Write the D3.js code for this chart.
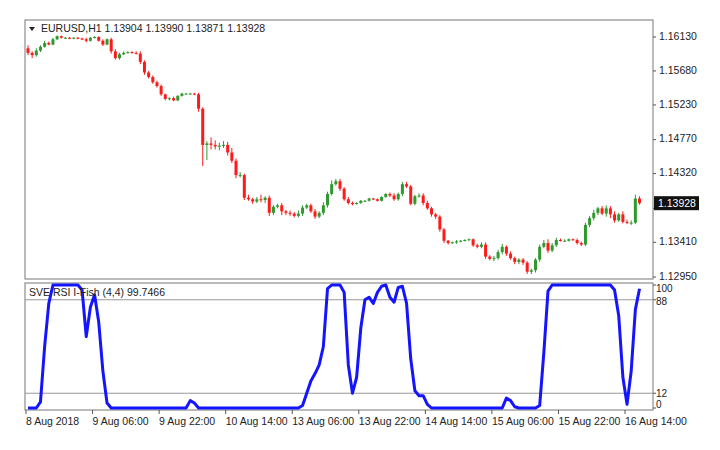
<!DOCTYPE html>
<html><head><meta charset="utf-8">
<script src="https://cdn.jsdelivr.net/npm/d3@7"></script>
<style>body{margin:0;background:#fff}text{font-family:Tahoma,"Liberation Sans",sans-serif;font-size:10.5px;fill:#222}</style>
</head><body><svg id="c" width="720" height="450"></svg>
<script>
// closes, one per H1 bar
const closes = [1.1592,1.1589,1.1595,1.1600,1.1605,1.1603,1.1610,1.1614,1.1612,1.1612,
1.1611,1.1612,1.1611,1.1610,1.1608,1.1612,1.1613,1.1608,1.1603,1.1610,
1.1594,1.1585,1.1590,1.1592,1.1593,1.1592,1.1591,1.1580,1.1566,1.1560,
1.1553,1.1548,1.1537,1.1531,1.1532,1.1529,1.1535,1.1538,1.1538,1.1538,
1.1537,1.1518,1.1470,1.1472,1.1470,1.1468,1.1469,1.1470,1.1460,1.1449,
1.1430,1.1430,1.1400,1.1398,1.1395,1.1398,1.1397,1.1400,1.1380,1.1388,
1.1390,1.1382,1.1380,1.1379,1.1376,1.1379,1.1387,1.1390,1.1382,1.1375,
1.1380,1.1390,1.1405,1.1418,1.1422,1.1412,1.1398,1.1393,1.1392,1.1393,
1.1396,1.1396,1.1399,1.1398,1.1396,1.1401,1.1405,1.1403,1.1398,1.1405,
1.1418,1.1415,1.1392,1.1402,1.1403,1.1393,1.1386,1.1378,1.1375,1.1358,
1.1343,1.1340,1.1341,1.1342,1.1343,1.1344,1.1345,1.1337,1.1335,1.1338,
1.1322,1.1319,1.1320,1.1328,1.1335,1.1326,1.1320,1.1315,1.1318,1.1314,
1.1302,1.1304,1.1318,1.1335,1.1340,1.1330,1.1337,1.1344,1.1343,1.1343,
1.1345,1.1344,1.1340,1.1338,1.1364,1.1373,1.1380,1.1386,1.1379,1.1386,
1.1378,1.1370,1.1378,1.1368,1.1367,1.1367,1.1399,1.13928];
const firstOpen = 1.1598;
// wick extents in pips above/below the body
const wickUp = [4,2,3,2,3,2,2,1,1,1,1,1,1,1,2,1,1,1,2,1,2,3,2,2,1,1,2,3,2,2,
2,2,2,1,1,2,1,1,1,1,1,2,2,3,8,6,4,5,4,6,3,4,2,4,2,3,6,2,3,2,
2,3,2,3,2,4,3,2,2,3,2,4,3,5,3,3,2,3,2,1,1,1,1,1,1,1,1,2,3,2,
3,3,2,2,3,3,3,2,2,2,2,1,1,2,1,1,1,1,2,3,3,2,3,3,4,2,3,2,2,2,
2,2,2,3,4,5,3,3,2,2,1,1,2,2,3,3,4,2,3,4,3,4,2,4,3,3,5,3];
const wickDn = [3,4,2,2,1,1,1,1,1,1,1,1,1,1,2,1,1,1,2,1,3,2,2,1,1,1,1,3,3,2,
2,2,2,2,2,1,1,1,1,1,1,4,28,20,6,4,5,3,4,3,4,3,3,2,3,2,3,4,4,3,
2,5,3,3,2,2,3,2,2,3,2,3,3,2,2,3,2,2,2,1,1,1,1,1,1,1,1,2,2,2,
3,2,2,2,2,3,2,3,3,3,3,2,1,2,1,1,1,2,2,2,3,2,3,2,3,3,2,3,3,3,
3,3,3,3,2,3,2,2,1,1,1,1,2,2,2,3,3,3,2,4,5,3,2,2,2,3,2,2];
// SVE RSI I-Fish, one value per bar (10 per row)
const rsi = [0,0,0,5,50,85,100,100,100,100,
100,100,100,96,58,82,92,70,30,4,
0,0,0,0,0,0,0,0,0,0,
0,0,0,0,0,0,0,0,0,6,
4,0,0,0,0,0,0,0,0,0,
0,0,0,0,0,0,0,0,0,0,
0,0,0,0,0,0,2,12,22,28,
35,50,97,100,100,100,94,35,12,25,
65,88,90,85,94,99,100,90,86,98,
99,85,40,14,10,10,3,0,0,0,
0,0,0,0,0,0,0,0,0,0,
0,0,0,0,0,8,6,1,0,0,
0,0,0,2,45,95,100,100,100,100,
100,100,100,100,100,100,100,100,100,100,
100,96,75,25,3,30,80,97];
const priceTicks = [1.16130,1.15680,1.15230,1.14770,1.14320,1.13860,1.13410,1.12950];
const rsiLevels = [100,88,12,0];
const timeLabels = ["8 Aug 2018","9 Aug 06:00","9 Aug 22:00","10 Aug 14:00","13 Aug 06:00",
  "13 Aug 22:00","14 Aug 14:00","15 Aug 06:00","15 Aug 22:00","16 Aug 14:00"];
const labelStep = 16;

const svg = d3.select('#c');
const L = 25, R = 653, T1 = 20, B1 = 279, T2 = 283, B2 = 410;
const x = d3.scaleLinear().domain([0, closes.length]).range([L + 1, L + 1 + 4.16 * closes.length]);
const y = d3.scaleLinear().domain([1.12950, 1.16130]).range([277, 37]);
const yr = d3.scaleLinear().domain([0, 100]).range([B2 - 2, T2 + 2]);

// panel frames
svg.append('rect').attr('x', L).attr('y', T1).attr('width', R - L).attr('height', B1 - T1)
  .attr('fill', 'none').attr('stroke', '#777');
svg.append('rect').attr('x', L).attr('y', T2).attr('width', R - L).attr('height', B2 - T2)
  .attr('fill', 'none').attr('stroke', '#777');

// candles
const bars = closes.map((c, i) => {
  const o = i === 0 ? firstOpen : closes[i - 1];
  return { i, o, c, h: Math.max(o, c) + wickUp[i] / 10000, l: Math.min(o, c) - wickDn[i] / 10000 };
});
const g = svg.append('g');
bars.forEach(d => {
  const col = d.c >= d.o ? '#2e9a2e' : '#ff1a1a';
  const cx = x(d.i) + 2;
  g.append('line').attr('x1', cx).attr('x2', cx).attr('y1', y(d.h)).attr('y2', y(d.l))
    .attr('stroke', col).attr('stroke-width', 1);
  g.append('rect').attr('x', cx - 1.5).attr('width', 3)
    .attr('y', y(Math.max(d.o, d.c))).attr('height', Math.max(1, Math.abs(y(d.o) - y(d.c))))
    .attr('fill', col);
});

// price axis (the 1.13860 label sits under the current-price box)
const last = closes[closes.length - 1];
priceTicks.forEach(p => {
  svg.append('line').attr('x1', R).attr('x2', R + 3).attr('y1', y(p)).attr('y2', y(p)).attr('stroke', '#555');
  if (Math.abs(y(p) - y(last)) > 10)
    svg.append('text').attr('x', R + 6).attr('y', y(p) - 1).attr('dy', '0.35em').text(p.toFixed(5));
});
svg.append('rect').attr('x', R + 1).attr('y', y(last) - 7).attr('width', 45).attr('height', 14).attr('fill', '#111');
svg.append('text').attr('x', R + 5).attr('y', y(last)).attr('dy', '0.35em').style('fill', '#fff').text(last.toFixed(5));

// header
svg.append('path').attr('d', 'M29,27 L35,27 L32,31 Z').attr('fill', '#222');
svg.append('text').attr('x', 41).attr('y', 32).text('EURUSD,H1  1.13904 1.13990 1.13871 1.13928');

// rsi panel
rsiLevels.forEach(v => {
  if (v === 88 || v === 12)
    svg.append('line').attr('x1', L).attr('x2', R).attr('y1', yr(v)).attr('y2', yr(v)).attr('stroke', '#999');
  svg.append('line').attr('x1', R).attr('x2', R + 3).attr('y1', yr(v)).attr('y2', yr(v)).attr('stroke', '#555');
  const off = v === 100 ? 3 : v === 88 ? 1.5 : v === 0 ? -4 : 0;
  svg.append('text').attr('x', R + 3).attr('y', yr(v) + off).attr('dy', '0.35em')
    .style('font-size', '10px').text(v);
});
svg.append('path').datum(rsi)
  .attr('d', d3.line().x((d, i) => x(i) + 2).y(d => yr(d)))
  .attr('fill', 'none').attr('stroke', '#1414ff').attr('stroke-width', 3).attr('stroke-linejoin', 'round');
svg.append('text').attr('x', 29).attr('y', 296).text('SVE RSI I-Fish (4,4) 99.7466');

// time axis
timeLabels.forEach((t, k) => {
  const tx = x(k * labelStep);
  svg.append('line').attr('x1', tx).attr('x2', tx).attr('y1', B2).attr('y2', B2 + 4).attr('stroke', '#555');
  svg.append('text').attr('x', tx).attr('y', 425).text(t);
});
</script></body></html>
